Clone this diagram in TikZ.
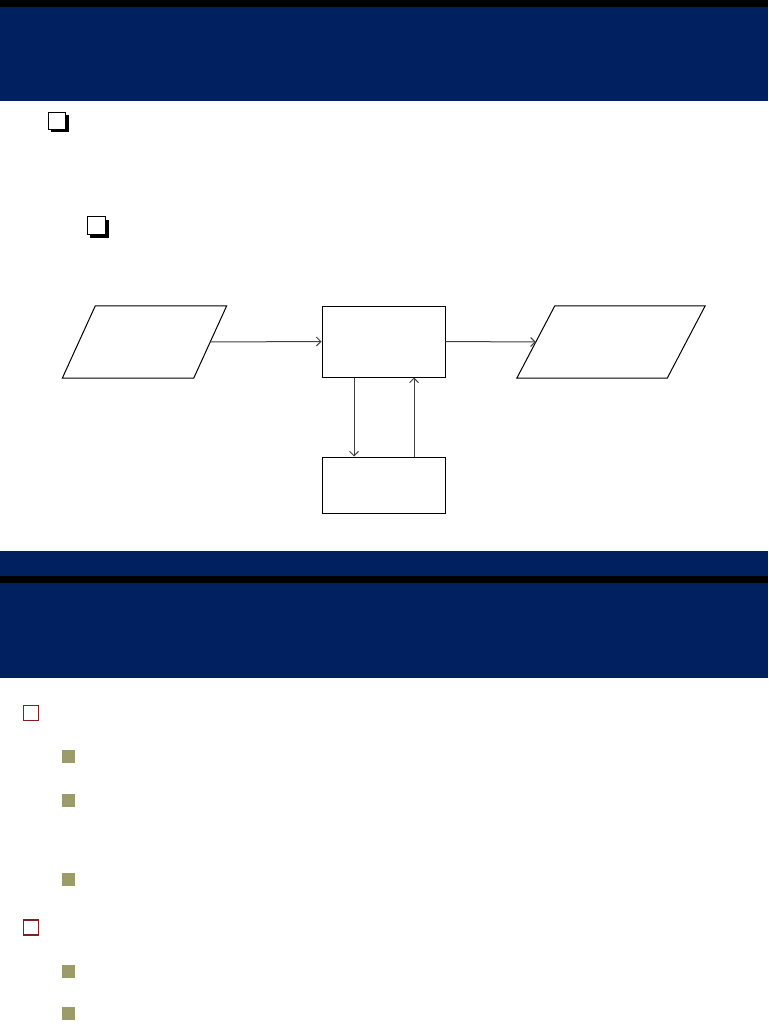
\documentclass[tikz,border=0pt]{standalone}
\usetikzlibrary{arrows.meta}
\definecolor{navy}{HTML}{002060}
\definecolor{olivebul}{HTML}{9C9C6A}
\definecolor{redbul}{HTML}{7F1F1F}
\definecolor{arrgray}{HTML}{404040}
\begin{document}
\begin{tikzpicture}[x=1pt,y=-1pt,
  procbox/.style={draw=black,line width=1pt,minimum width=123pt,inner sep=0pt,fill=white},
  iobox/.style={minimum height=72pt,inner sep=0pt},
  ioline/.style={draw=black,line width=1pt,line join=miter},
  arr/.style={-{Straight Barb[length=4.5pt,width=9pt]},draw=arrgray,line width=1pt},
  redsq/.style={draw=redbul,line width=1.6pt},
  olivesq/.style={fill=olivebul}]
\useasboundingbox (0,0) rectangle (768,1024);
\fill[white] (0,0) rectangle (768,1024);
% top header
\fill[black] (0,0) rectangle (768,7);
\fill[navy] (0,7) rectangle (768,101);
% checkboxes
\fill[black] (51,115) rectangle (68.5,132);
\filldraw[fill=white,draw=black,line width=1pt] (48.5,112.5) rectangle (65.5,129.5);
\fill[black] (90,220) rectangle (108.5,237.5);
\filldraw[fill=white,draw=black,line width=1pt] (87.5,217) rectangle (105,234.5);
% diagram
\node[iobox,minimum width=131pt] (lp) at (144.5,342) {};
\draw[ioline] ([xshift=16.5pt]lp.north west) -- ([xshift=16.5pt]lp.north east)
  -- ([xshift=-16.5pt]lp.south east) -- ([xshift=-16.5pt]lp.south west) -- cycle;
\node[procbox,minimum height=71pt] (cb) at (383.5,341.5) {};
\draw[line width=1.8pt] (cb.south west) -- (cb.south east);
\node[iobox,minimum width=150pt] (rp) at (611,342) {};
\draw[ioline] ([xshift=19pt]rp.north west) -- ([xshift=19pt]rp.north east)
  -- ([xshift=-19pt]rp.south east) -- ([xshift=-19pt]rp.south west) -- cycle;
\node[procbox,minimum height=56pt] (bb) at (383.5,485) {};
\draw[arr] (lp.east) -- (cb.west);
\draw[arr] (cb.east) -- (rp.west);
\draw[arr] ([xshift=-29.5pt]cb.south) -- ([xshift=-29.5pt]bb.north);
\draw[arr] ([xshift=30.5pt]bb.north) -- ([xshift=30.5pt]cb.south);
% second header
\fill[navy] (0,551) rectangle (768,576);
\fill[black] (0,576) rectangle (768,583);
\fill[navy] (0,583) rectangle (768,678);
% bullets
\draw[redsq] (23.5,705.5) rectangle (38.5,720.5);
\draw[redsq] (23.5,920) rectangle (38.5,935);
\fill[olivesq] (62,750) rectangle (75,763);
\fill[olivesq] (62,793.5) rectangle (75,806.5);
\fill[olivesq] (62,873) rectangle (75,886);
\fill[olivesq] (62,965) rectangle (75,978);
\fill[olivesq] (62,1007) rectangle (75,1020);
\end{tikzpicture}
\end{document}
